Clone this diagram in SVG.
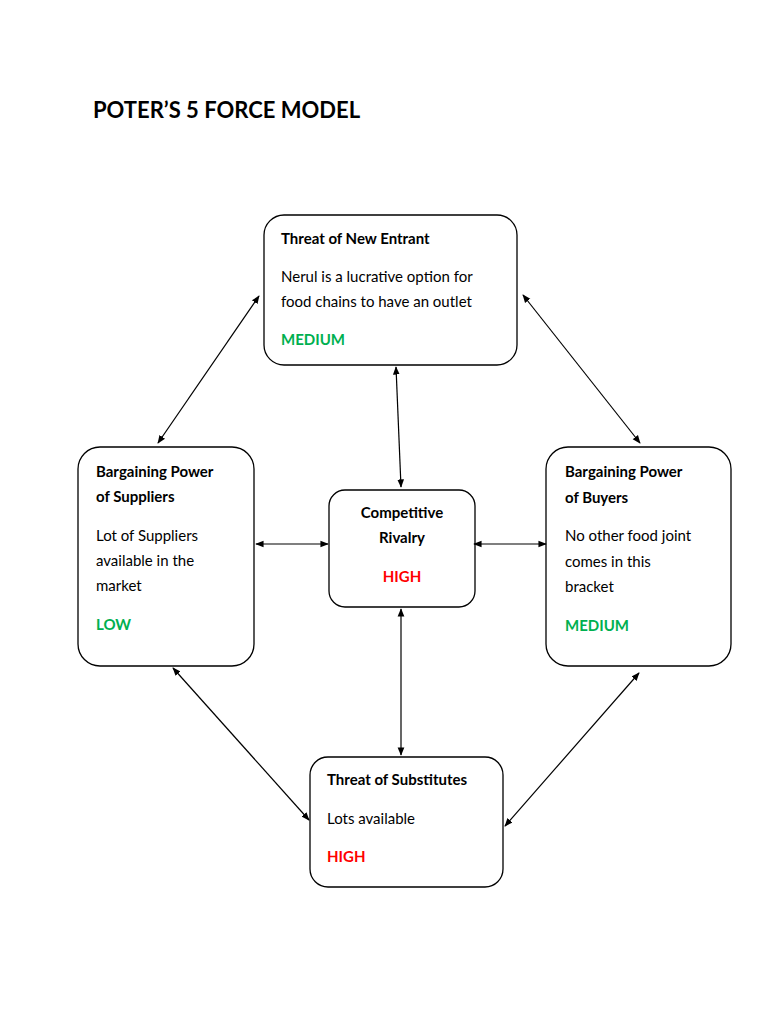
<svg xmlns="http://www.w3.org/2000/svg" width="768" height="1024" viewBox="0 0 768 1024">
<style>
.box{fill:#fff;stroke:#000;stroke-width:1.3}
text{font-family:Lato,"Open Sans","Liberation Sans",sans-serif;font-size:15px;fill:#000}
.b{font-weight:bold}
.g{fill:#00b050;font-weight:bold}
.r{fill:#ff0000;font-weight:bold}
.c{stroke:#000;stroke-width:1.2;fill:none;marker-start:url(#a);marker-end:url(#a)}
</style>
<defs><marker id="a" viewBox="0 0 10 10" refX="9" refY="5" markerWidth="7" markerHeight="7" orient="auto-start-reverse"><path d="M0,1 L10,5 L0,9 z" fill="#000"/></marker></defs>
<rect width="768" height="1024" fill="#fff"/>
<text x="93" y="118" class="b" style="font-size:22px">POTER’S 5 FORCE MODEL</text>
<g id="top"><rect class="box" x="264" y="215" width="253" height="150" rx="20"/>
<text x="281" y="244" class="b">Threat of New Entrant</text>
<text x="281" y="282">Nerul is a lucrative option for</text>
<text x="281" y="307">food chains to have an outlet</text>
<text x="281" y="345" class="g">MEDIUM</text></g>
<g id="left"><rect class="box" x="78" y="447" width="176" height="219" rx="22"/>
<text x="96" y="477" class="b">Bargaining Power</text>
<text x="96" y="502" class="b">of Suppliers</text>
<text x="96" y="541">Lot of Suppliers</text>
<text x="96" y="566">available in the</text>
<text x="96" y="591">market</text>
<text x="96" y="630" class="g">LOW</text></g>
<g id="center"><rect class="box" x="329" y="490" width="146" height="117" rx="16"/>
<text x="402" y="518" class="b" text-anchor="middle">Competitive</text>
<text x="402" y="543" class="b" text-anchor="middle">Rivalry</text>
<text x="402" y="582" class="r" text-anchor="middle">HIGH</text></g>
<g id="right"><rect class="box" x="546" y="447" width="185" height="219" rx="22"/>
<text x="565" y="477" class="b">Bargaining Power</text>
<text x="565" y="503" class="b">of Buyers</text>
<text x="565" y="541">No other food joint</text>
<text x="565" y="567">comes in this</text>
<text x="565" y="592">bracket</text>
<text x="565" y="631" class="g">MEDIUM</text></g>
<g id="bottom"><rect class="box" x="310" y="757" width="193" height="130" rx="18"/>
<text x="327" y="785" class="b">Threat of Substitutes</text>
<text x="327" y="824">Lots available</text>
<text x="327" y="862" class="r">HIGH</text></g>
<g id="connectors">
<line class="c" x1="158" y1="443" x2="259" y2="296"/>
<line class="c" x1="523" y1="295" x2="640" y2="443"/>
<line class="c" x1="396" y1="367" x2="401" y2="487"/>
<line class="c" x1="256" y1="544" x2="328" y2="544"/>
<line class="c" x1="474" y1="544" x2="546" y2="544"/>
<line class="c" x1="401" y1="609" x2="401" y2="755"/>
<line class="c" x1="173" y1="668" x2="309" y2="820"/>
<line class="c" x1="639" y1="673" x2="505" y2="826"/>
</g>
</svg>
